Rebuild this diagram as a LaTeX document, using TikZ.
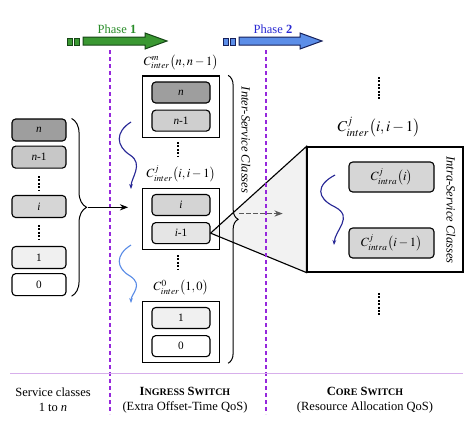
\documentclass[tikz,border=0pt]{standalone}
\usepackage{amsmath}
\usepackage{mathptmx}
\usepackage[no-math]{fontspec}
\setmainfont{Liberation Serif}
\usepackage{tikz}
\usetikzlibrary{arrows.meta, positioning, fit, backgrounds, calc,
                decorations.pathreplacing}
\definecolor{phaseonefill}{RGB}{58,152,50}
\definecolor{phaseoneline}{RGB}{22,70,22}
\definecolor{phaseonetext}{RGB}{40,140,40}
\definecolor{phasetwofill}{RGB}{92,142,232}
\definecolor{phasetwoline}{RGB}{22,32,90}
\definecolor{phasetwotext}{RGB}{40,40,210}
\definecolor{switchcol}{RGB}{150,40,220}
\definecolor{footcol}{RGB}{215,175,235}
\definecolor{wavedark}{RGB}{40,40,150}
\definecolor{wavelight}{RGB}{90,140,230}
\newcommand{\fakesc}[2]{#1{\footnotesize #2}}
\tikzset{
  classbox/.style={
    rectangle, rounded corners=3pt,
    minimum width=43.2pt, minimum height=17.6pt,
    inner sep=1pt, text centered, font=\small,
    draw=black, line width=0.9pt, fill=#1
  },
  queuebox/.style={classbox=#1, minimum width=46.4pt, minimum height=16.8pt},
  intrabox/.style={classbox=#1, minimum width=68pt, minimum height=24pt,
    font=\normalsize},
  groupbox/.style={rectangle, draw=black, line width=0.9pt,
    inner xsep=7.2pt, inner ysep=4.4pt},
  switchline/.style={dash pattern=on 3.2pt off 2.4pt, line width=1.4pt,
    color=switchcol},
  dotstack/.style={line width=1.6pt, dash pattern=on 1.6pt off 1.1pt},
  wavearrow/.style={-{Stealth[length=4pt]}, line width=0.9pt, color=#1},
  phasebar/.style={draw=#1line, fill=#1fill, line width=0.8pt},
  bracedeco/.style={decorate, line width=0.8pt,
    decoration={brace, amplitude=#1}},
}

\begin{document}
\begin{tikzpicture}[x=0.8pt, y=-0.8pt]
  \useasboundingbox (0,0) rectangle (474,432);
  % phase arrows
  \draw[phasebar=phaseone] (67,38) rectangle (72,45) (74,38) rectangle (79,45);
  \draw[phasebar=phaseone] (83,37) -- (145,37) -- (145,33) -- (167,41)
    -- (145,49) -- (145,45) -- (83,45) -- cycle;
  \node[text=phaseonetext] (ph1) at (117,29) {Phase \textbf{1}};
  \draw[phasebar=phasetwo] (223,38) rectangle (228,45) (230,38) rectangle (235,45);
  \draw[phasebar=phasetwo] (239,37) -- (300,37) -- (300,33) -- (322,41)
    -- (300,49) -- (300,45) -- (239,45) -- cycle;
  \node[text=phasetwotext] (ph2) at (273,29) {Phase \textbf{2}};
  \draw[switchline] (110,50) -- (110,414);
  \draw[switchline] (266,50) -- (266,414);

  % service classes
  \node[classbox=black!38] (cn) at (39,130) {\textit{n}};
  \node[classbox=black!22, below=3.2pt of cn] (cn1) {\textit{n}-1};
  \node[classbox=black!16] (ci) at (39,206.5) {\textit{i}};
  \node[classbox=black!6] (c1) at (39,257.5) {1};
  \node[classbox=white, below=3.2pt of c1] (c0) {0};
  \draw[dotstack] (39,176) -- (39,190) (39,225) -- (39,239);
  \draw[bracedeco=12pt] ($(cn.north east)+(5,0)$) -- ($(c0.south east)+(5,0)$);
  \coordinate (lbtip) at ($(cn.north east)!0.5!(c0.south east)+(21,0)$);

  % ingress switch
  \node[queuebox=black!38] (qn) at (181,92.5) {\textit{n}};
  \node[queuebox=black!19, below=4.8pt of qn] (qn1) {\textit{n}-1};
  \node[groupbox, fit=(qn)(qn1)] (gtop) {};
  \node[above=1pt of gtop] (ltop) {$C^{m}_{inter}\bigl(n,n-1\bigr)$};
  \node[queuebox=black!17] (qi) at (181,205) {\textit{i}};
  \node[queuebox=black!10, below=4.8pt of qi] (qim1) {\textit{i}-1};
  \node[groupbox, fit=(qi)(qim1)] (gmid) {};
  \node[above=1pt of gmid] (lmid) {$C^{j}_{inter}\bigl(i,i-1\bigr)$};
  \node[queuebox=black!6] (q1) at (181,318) {1};
  \node[queuebox=white, below=4.8pt of q1] (q0) {0};
  \node[groupbox, fit=(q1)(q0)] (gbot) {};
  \node[above=1pt of gbot] (lbot) {$C^{0}_{inter}\bigl(1,0\bigr)$};
  \draw[dotstack] (178,142) -- (178,156) (178,255) -- (178,269);
  \draw[-Stealth, thick, shorten >=11pt] (lbtip) -- (lbtip -| gmid.west);
  \draw[wavearrow=wavedark] (131,122) .. controls (115,132) and (116,146)
    .. (130,155) .. controls (144,164) and (131,178) .. (131,189);
  \draw[wavearrow=wavelight] (131,245) .. controls (115,255) and (116,268)
    .. (130,276) .. controls (144,285) and (131,294) .. (131,303);
  \draw[bracedeco=8pt] ($(gtop.north east)+(8,0)$) -- ($(gbot.south east)+(8,0)$);
  \coordinate (rbtip) at ($(gtop.north east)!0.48!(gbot.south east)+(19,0)$);
  \node[rotate=-90, font=\itshape] (intertext) at (246,140) {Inter-Service Classes};

  % core switch
  \node[groupbox, fill=white, minimum width=124.8pt, minimum height=100pt]
    (corebox) at (385,209.5) {};
  \begin{scope}[on background layer]
    \draw[fill=black!5, line width=0.9pt] (qim1.east) -- (corebox.north west)
      -- (corebox.south west) -- cycle;
  \end{scope}
  \draw[-Stealth, thick, black!65, dash pattern=on 4pt off 1.5pt, shorten >=19pt]
    (rbtip) -- (rbtip -| corebox.west);
  \node[intrabox=black!16] (ki) at (391.5,177) {$C^{j}_{intra}\bigl(i\bigr)$};
  \node[intrabox=black!16] (kim1) at (391.5,243) {$C^{j}_{intra}\bigl(i-1\bigr)$};
  \draw[wavearrow=wavedark] (335,175) .. controls (316,185) and (316,198)
    .. (335,207) .. controls (354,217) and (335,230) .. (334,245);
  \node[rotate=-90, font=\itshape] (intratext) at (451,210) {Intra-Service Classes};
  \node[font=\large] (ltopright) at (379,127) {$C^{j}_{inter}\bigl(i,i-1\bigr)$};
  \draw[dotstack] (379,77) -- (379,99) (379,293) -- (379,315);

  % footer
  \draw[footcol, line width=0.6pt] (10,373) -- (463,373);
  \node[align=center] (svc) at (53,400) {Service classes\\1 to \textit{n}};
  \node[align=center] (ingress) at (185,400)
    {\textbf{\fakesc{I}{NGRESS} \fakesc{S}{WITCH}}\\(Extra Offset-Time QoS)};
  \node[align=center] (core) at (365,400)
    {\textbf{\fakesc{C}{ORE} \fakesc{S}{WITCH}}\\(Resource Allocation QoS)};
\end{tikzpicture}
\end{document}
